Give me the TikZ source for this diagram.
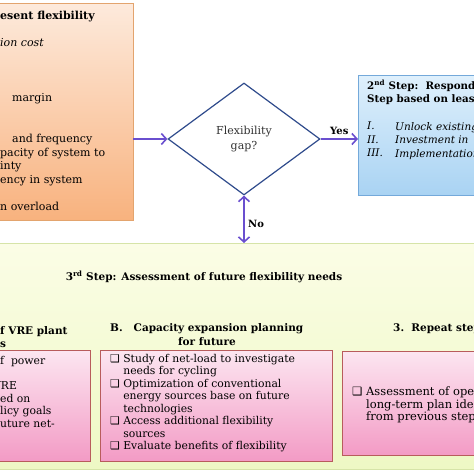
\documentclass[tikz,border=0pt]{standalone}
\usepackage{fontspec}
\setmainfont{DejaVu Serif}
\newfontfamily\symfont{DejaVu Sans}
\usetikzlibrary{shapes.geometric,arrows.meta,positioning}

\definecolor{orangetop}{HTML}{FDEADC}
\definecolor{orangebot}{HTML}{F8B27E}
\definecolor{orangeline}{HTML}{E3A46E}
\definecolor{bluetop}{HTML}{DFF0FC}
\definecolor{bluebot}{HTML}{A9D3F3}
\definecolor{blueline}{HTML}{74A9DA}
\definecolor{greentop}{HTML}{FBFDE6}
\definecolor{greenbot}{HTML}{EEF8C4}
\definecolor{greenline}{HTML}{D6E4A8}
\definecolor{pinktop}{HTML}{FCE6F1}
\definecolor{pinkbot}{HTML}{F39BC5}
\definecolor{pinkline}{HTML}{B85C5C}
\definecolor{flowcol}{HTML}{6A4FCF}
\definecolor{gapcol}{HTML}{2F4B8C}

\newcommand{\chk}{{\symfont\char"2751}}
\newcommand{\ind}{\hphantom{\chk\ }}

\begin{document}
\begin{tikzpicture}[x=1pt,y=-1pt,
  box/.style={rectangle,draw,inner sep=0pt,outer sep=0pt,line width=1pt},
  orangebox/.style={box,draw=orangeline,top color=orangetop,bottom color=orangebot},
  bluebox/.style={box,draw=blueline,top color=bluetop,bottom color=bluebot},
  greenbox/.style={box,draw=greenline,top color=greentop,bottom color=greenbot},
  pinkbox/.style={box,draw=pinkline,top color=pinktop,bottom color=pinkbot},
  gapnode/.style={diamond,draw=gapcol,line width=1.2pt,fill=white,inner sep=0pt,
    minimum width=152pt,minimum height=112pt,align=center,text=black!80,
    font=\fontsize{11}{15}\selectfont},
  txt/.style={anchor=base west,inner sep=0pt,font=\fontsize{11}{14}\selectfont},
  bodytxt/.style={anchor=north west,inner sep=0pt,align=left,font=\fontsize{10.8}{12.5}\selectfont},
  head/.style={inner sep=0pt,font=\bfseries\fontsize{10.5}{14}\selectfont},
  flow/.style={draw=flowcol,line width=1.6pt,-{Straight Barb[length=5pt,width=11pt]}}]
  \useasboundingbox (0,0) rectangle (474,474);
  \clip (0,0) rectangle (474,474);

  % boxes
  \node[orangebox,minimum width=150pt,minimum height=217pt] at (58,111.5) (present) {};
  \node[gapnode] at (244,139) (gap) {Flexibility\\gap?};
  \node[bluebox,minimum width=140pt,minimum height=120pt] at (428,135) (respond) {};
  \node[greenbox,minimum width=500pt,minimum height=226pt] at (237,356) (future) {};
  \node[pinkbox,minimum width=110pt,minimum height=111pt] at (35,405.5) (vre) {};
  \node[pinkbox,minimum width=232pt,minimum height=111pt] at (216,405.5) (expand) {};
  \node[pinkbox,minimum width=150pt,minimum height=104pt] at (417,403) (repeat) {};

  % connectors
  \path[flow,every node/.style={font=\bfseries\fontsize{10}{12}\selectfont}]
    (present.east |- gap.west) edge (gap.west)
    (gap.east) edge node[above] {Yes} (gap.east -| respond.west)
    (gap.south) edge node[right,pos=0.6] {No} (gap.south |- future.north)
    ;

  % present flexibility text
  \node[txt,font=\bfseries\fontsize{11}{14}\selectfont] at (0,19) (pres1) {esent flexibility};
  \node[txt,font=\itshape\fontsize{11}{14}\selectfont] at (0,46) (pres2) {ion cost};
  \node[txt] at (12,101) (pres3) {margin};
  \node[txt] at (12,142) (pres4) {and frequency};
  \node[txt] at (0,156) (pres5) {pacity of system to};
  \node[txt] at (0,169) (pres6) {inty};
  \node[txt] at (0,183) (pres7) {ency in system};
  \node[txt] at (0,210) (pres8) {n overload};

  % 2nd step text
  \node[txt,font=\bfseries\fontsize{10.3}{14}\selectfont] at (367,89) (resp1) {2\textsuperscript{nd} Step:\ \ Respond};
  \node[txt,font=\bfseries\fontsize{10.3}{14}\selectfont] at (367,102) (resp2) {Step based on leas};
  \node[bodytxt,font=\itshape\fontsize{10.5}{13.5}\selectfont] at (367,122) (respnum) {I.\\II.\\III.};
  \node[bodytxt,font=\itshape\fontsize{10.5}{13.5}\selectfont] at (395,122) (resptxt) {Unlock existing\\Investment in\\Implementation};

  % 3rd step text
  \node[head] at (204,277) (fut1) {3\textsuperscript{rd} Step: Assessment of future flexibility needs};
  \node[head,anchor=base west] at (0,334) (vrehead) {f VRE plant};
  \node[head,anchor=base west] at (0,347) (vrehead2) {s};
  \node[head,anchor=base west] at (110,331) (exphead) {B.\ \ \ Capacity expansion planning};
  \node[head,anchor=base] at (207,345) (exphead2) {for future};
  \node[head,anchor=base west] at (393,331) (rephead) {3.\ \ Repeat step};

  \node[bodytxt] at (0,356) (vretxt) {f\ \ power\\[13pt]\hspace{-7pt}VRE\\ed on\\licy goals\\uture net-};
  \node[bodytxt] at (110,354) (exptxt) {\chk\ Study of net-load to investigate\\\ind needs for cycling\\\chk\ Optimization of conventional\\\ind energy sources base on future\\\ind technologies\\\chk\ Access additional flexibility\\\ind sources\\\chk\ Evaluate benefits of flexibility};
  \node[bodytxt,font=\fontsize{11.5}{12.5}\selectfont] at (352,387) (reptxt) {\chk\ Assessment of ope\\\ind long-term plan ide\\\ind from previous step};
\end{tikzpicture}
\end{document}
